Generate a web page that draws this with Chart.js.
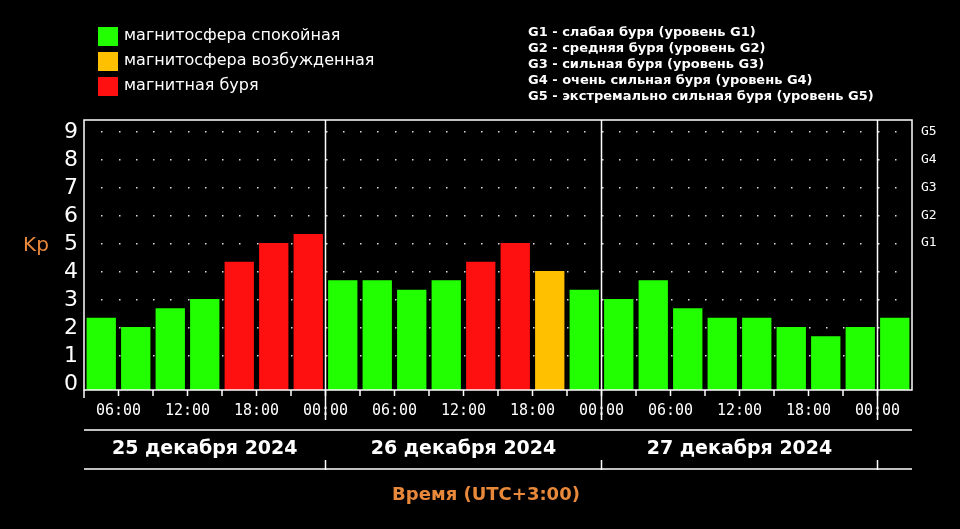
<!DOCTYPE html><html><head><meta charset="utf-8">
<script src="https://cdn.jsdelivr.net/npm/chart.js@4"></script>
<style>html,body{margin:0;background:#000}#w{width:960px;height:529px}</style></head><body><div id="w"><canvas id="c"></canvas></div>
<script>
const kpValues=[2.33,2.0,2.67,3.0,4.33,5.0,5.33, 3.67,3.67,3.33,3.67,4.33,5.0,4.0,3.33, 3.0,3.67,2.67,2.33,2.33,2.0,1.67,2.0, 2.33];
const timeLabels=['06:00','12:00','18:00','00:00'];
const dayLabels=['25 декабря 2024','26 декабря 2024','27 декабря 2024'];
const kpTicks=[0,1,2,3,4,5,6,7,8,9];
const gLabels=['G1','G2','G3','G4','G5'];
const legendItems=[['магнитосфера спокойная','#22ff00'],['магнитосфера возбужденная','#ffc000'],['магнитная буря','#ff1010']];
const gDescr=['G1 - слабая буря (уровень G1)','G2 - средняя буря (уровень G2)','G3 - сильная буря (уровень G3)','G4 - очень сильная буря (уровень G4)','G5 - экстремально сильная буря (уровень G5)'];
const daySplits=[7,15,23];
const colors=kpValues.map((v,i)=>i===13?'#ffc000':(v>=4.3?'#ff1010':'#22ff00'));
const deco={id:'deco',
 beforeDatasetsDraw(ch){const c=ch.ctx,x=ch.scales.x,y=ch.scales.y;c.save();
  c.fillStyle='#ddd';
  for(let k=1;k<=9;k++){const yy=y.getPixelForValue(k);for(let t=0.5;t<24;t+=0.5){c.fillRect(Math.round(x.getPixelForValue(t)),Math.round(yy),1.5,1.5);}}
  c.restore();},
 afterDraw(ch){const c=ch.ctx,x=ch.scales.x,y=ch.scales.y,a=ch.chartArea;c.save();
  c.strokeStyle='#fff';c.lineWidth=1.5;
  c.strokeRect(a.left,a.top,a.right-a.left,a.bottom-a.top);
  daySplits.forEach(s=>{const px=x.getPixelForValue(s);c.beginPath();c.moveTo(px,a.top);c.lineTo(px,a.bottom);c.stroke();
   c.beginPath();c.moveTo(px,a.bottom);c.lineTo(px,a.bottom+30);c.stroke();c.beginPath();c.moveTo(px,460);c.lineTo(px,470);c.stroke();});
  for(let t=1;t<24;t++){const px=x.getPixelForValue(t);c.beginPath();c.moveTo(px,a.bottom);c.lineTo(px,a.bottom+6);c.stroke();}
  c.beginPath();c.moveTo(a.left,430);c.lineTo(a.right,430);c.moveTo(a.left,469);c.lineTo(a.right,469);c.stroke();
  c.beginPath();c.moveTo(a.left,a.bottom);c.lineTo(a.left,a.bottom+8);c.stroke();
  c.fillStyle='#fff';c.font='15px "DejaVu Sans Mono", monospace';c.textAlign='center';c.textBaseline='middle';
  for(let t=1;t<24;t+=2){c.fillText(timeLabels[((t-1)/2)%4],x.getPixelForValue(t),a.bottom+21);}
  c.font='bold 19px "DejaVu Sans"';
  const bnd=[0,7,15,23];
  for(let d=0;d<3;d++){c.fillText(dayLabels[d],(x.getPixelForValue(bnd[d])+x.getPixelForValue(bnd[d+1]))/2,449);}
  c.fillStyle='#e8883a';c.font='bold 18px "DejaVu Sans"';c.fillText('Время (UTC+3:00)',486,495);
  c.font='20px "DejaVu Sans"';c.fillText('Kp',36,246);
  c.fillStyle='#fff';c.font='22px "DejaVu Sans"';c.textAlign='right';
  kpTicks.forEach(k=>c.fillText(String(k),78,y.getPixelForValue(k)+1));
  c.font='13px "DejaVu Sans Mono", monospace';c.textAlign='left';
  gLabels.forEach((g,i)=>c.fillText(g,921,y.getPixelForValue(5+i)));
  c.font='16px "DejaVu Sans"';
  legendItems.forEach((it,i)=>{const yy=36+i*25;c.fillStyle=it[1];c.fillRect(98,yy-9,20,19);c.fillStyle='#fff';c.fillText(it[0],124,yy);});
  c.font='bold 13px "DejaVu Sans"';
  gDescr.forEach((s,i)=>c.fillText(s,528,33+i*16));
  c.restore();}};
new Chart(document.getElementById('c'),{type:'bar',
 data:{datasets:[{data:kpValues.map((v,i)=>({x:i+0.5,y:v})),backgroundColor:colors,barPercentage:0.85,categoryPercentage:1,base:-0.25}]},
 options:{responsive:true,maintainAspectRatio:false,animation:false,
  layout:{padding:{left:84,right:48,top:120,bottom:139}},
  plugins:{legend:{display:false},tooltip:{enabled:false}},
  scales:{x:{type:'linear',min:0,max:24,offset:false,display:false},
   y:{min:-0.25,max:9.4,display:false}}},
 plugins:[deco]});
</script></body></html>
